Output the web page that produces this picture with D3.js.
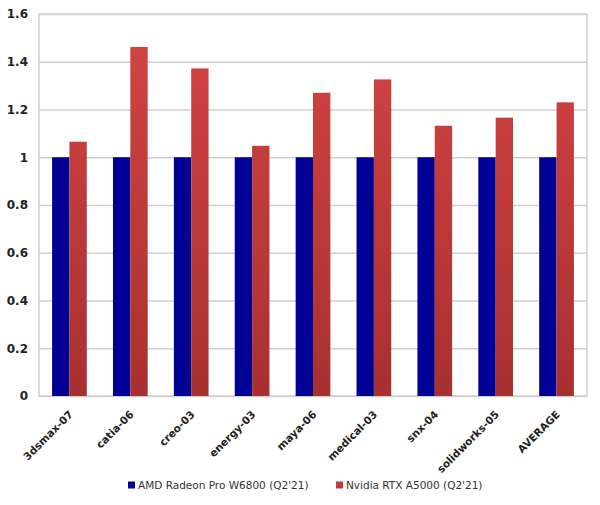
<!DOCTYPE html>
<html>
<head>
<meta charset="utf-8">
<script src="https://cdn.jsdelivr.net/npm/d3@7"></script>
<style>
  body { margin: 0; background: #fff; }
  text { font-family: "DejaVu Sans", "Liberation Sans", sans-serif; }
</style>
</head>
<body>
<svg id="chart" width="600" height="505"></svg>
<script>
// data
let categories = ['3dsmax-07', 'catia-06', 'creo-03', 'energy-03', 'maya-06', 'medical-03', 'snx-04', 'solidworks-05', 'AVERAGE'];
let amdValues = [1, 1, 1, 1, 1, 1, 1, 1, 1];
let nvidiaValues = [1.065, 1.462, 1.372, 1.048, 1.270, 1.326, 1.132, 1.166, 1.230];
let seriesNames = ["AMD Radeon Pro W6800 (Q2'21)", "Nvidia RTX A5000 (Q2'21)"];
let yTicks = [0, 0.2, 0.4, 0.6, 0.8, 1, 1.2, 1.4, 1.6];

let svg = d3.select('#chart');
let padding = {t: 14, r: 13, b: 109, l: 39};
let chartWidth = 600 - padding.l - padding.r;
let chartHeight = 505 - padding.t - padding.b;

let amdColor = '#000094';
let nvidiaTop = '#d44444';
let nvidiaBottom = '#a83030';

let xScale = d3.scaleBand().domain(categories).range([0, chartWidth]).paddingInner(0.43).paddingOuter(0.215);
let yScale = d3.scaleLinear().domain([0, 1.6]).range([chartHeight, 0]);

// gradient for the red bars
let defs = svg.append('defs');
let grad = defs.append('linearGradient')
    .attr('id', 'redGrad')
    .attr('gradientUnits', 'userSpaceOnUse')
    .attr('x1', 0).attr('x2', 0)
    .attr('y1', 0).attr('y2', chartHeight);
grad.append('stop').attr('offset', '0%').attr('stop-color', nvidiaTop);
grad.append('stop').attr('offset', '100%').attr('stop-color', nvidiaBottom);

let g = svg.append('g').attr('transform', `translate(${padding.l},${padding.t})`);

// gridlines + labels
let yAxis = d3.axisLeft(yScale).tickValues(yTicks).tickSize(-chartWidth).tickFormat(d => +d.toFixed(1));
let yAxisG = g.append('g').call(yAxis);
yAxisG.select('.domain').remove();
yAxisG.selectAll('.tick line').attr('stroke', '#cfcfcf').attr('stroke-width', 1.5);
yAxisG.selectAll('.tick text')
    .attr('x', -11)
    .attr('fill', '#222')
    .style('font-size', '12px')
    .style('font-weight', 'bold');

// plot border
g.append('rect')
    .attr('x', 0).attr('y', 0)
    .attr('width', chartWidth).attr('height', chartHeight)
    .attr('fill', 'none')
    .attr('stroke', '#cfcfcf')
    .attr('stroke-width', 1.5);

let bw = xScale.bandwidth() / 2;

g.selectAll('.amd-bar')
    .data(amdValues)
    .enter().append('rect')
    .attr('class', 'amd-bar')
    .attr('x', (d, i) => xScale(categories[i]))
    .attr('y', d => yScale(d))
    .attr('width', bw)
    .attr('height', d => chartHeight - yScale(d))
    .attr('fill', amdColor);

g.selectAll('.nv-bar')
    .data(nvidiaValues)
    .enter().append('rect')
    .attr('class', 'nv-bar')
    .attr('x', (d, i) => xScale(categories[i]) + bw)
    .attr('y', d => yScale(d))
    .attr('width', bw)
    .attr('height', d => chartHeight - yScale(d))
    .attr('fill', 'url(#redGrad)');

// x labels, rotated
let xAxis = d3.axisBottom(xScale).tickSize(0);
let xAxisG = g.append('g').attr('transform', `translate(0,${chartHeight})`).call(xAxis);
xAxisG.select('.domain').remove();
xAxisG.selectAll('.tick text')
    .attr('text-anchor', 'end')
    .attr('dx', 0)
    .attr('dy', 0)
    .attr('transform', 'translate(2,17) rotate(-45)')
    .attr('fill', '#222')
    .style('font-size', '10.5px')
    .style('font-weight', 'bold');

// legend
let legend = svg.append('g').attr('transform', 'translate(128,489)');
let legendItems = [
    {name: seriesNames[0], color: amdColor, x: 0},
    {name: seriesNames[1], color: '#c83a3a', x: 208}
];
legendItems.forEach(item => {
    let it = legend.append('g').attr('transform', `translate(${item.x},0)`);
    it.append('rect')
        .attr('x', 0).attr('y', -7.5)
        .attr('width', 7).attr('height', 7)
        .attr('fill', item.color);
    it.append('text')
        .text(item.name)
        .attr('x', 10)
        .attr('y', 0)
        .attr('fill', '#333')
        .style('font-size', '10.5px');
});
</script>
</body>
</html>
